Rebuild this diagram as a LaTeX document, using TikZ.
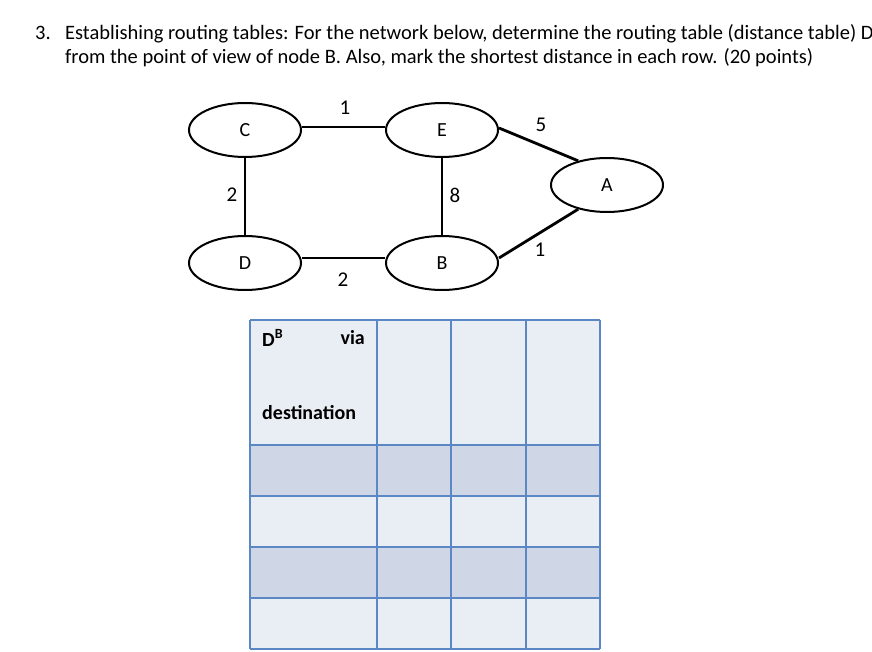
\documentclass[tikz,border=0pt]{standalone}
\usepackage{fontspec}
\setmainfont{Carlito}
\usetikzlibrary{shapes.geometric}
\begin{document}
\begin{tikzpicture}[x=1pt,y=-1pt,
  nd/.style={draw,line width=2pt,ellipse,minimum width=112pt,minimum height=54pt,font=\fontsize{20}{24}\selectfont},
  ed/.style={line width=2.8pt},
  wl/.style={font=\fontsize{21}{25}\selectfont},
  tb/.style={draw=tblue,line width=2pt},
  txt/.style={font=\fontsize{20.5}{25}\selectfont,anchor=west,inner sep=0pt}]
\definecolor{tblue}{HTML}{5B87C5}
\definecolor{lite}{HTML}{E9EDF4}
\definecolor{dark}{HTML}{CFD7E6}
\useasboundingbox (0,0) rectangle (872,652);
\node[txt] (t0) at (35,33) {3.};
\node[txt] (t1) at (65,33) {Establishing routing tables: For the network below, determine the routing table (distance table) D\textsuperscript{B}};
\node[txt] (t2) at (65,58) {from the point of view of node B. Also, mark the shortest distance in each row. (20 points)};
\node[nd] (C) at (245,130) {C};
\node[nd] (E) at (442,130) {E};
\node[nd] (A) at (607,185) {A};
\node[nd] (D) at (245,263) {D};
\node[nd] (B) at (442,263) {B};
\draw[ed] (C.east) ++(0,-3) coordinate (c1) -- (c1 -| E.west);
\draw[ed] (C) -- (D);
\draw[ed] (E) -- (B);
\draw[ed] (D.east) ++(0,-5) coordinate (d1) -- (d1 -| B.west);
\draw[ed] (E.east) ++(0,-2) coordinate (e1) -- (A.140);
\draw[ed] (B.east) ++(0,-5) coordinate (b1) -- (A.220);
\node[wl] (w1) at (345,108) {1};
\node[wl] (w2) at (232,195) {2};
\node[wl] (w3) at (455,195) {8};
\node[wl] (w4) at (343,280) {2};
\node[wl] (w5) at (541,125) {5};
\node[wl] (w6) at (540,250) {1};
% table
\fill[lite] (250,320) rectangle (600,445);
\fill[dark] (250,445) rectangle (600,496);
\fill[lite] (250,496) rectangle (600,547);
\fill[dark] (250,547) rectangle (600,598);
\fill[lite] (250,598) rectangle (600,649);
\foreach \x in {250,377,451,526,600} \draw[tb] (\x,320) -- (\x,649);
\foreach \y in {320,445,496,547,598,649} \draw[tb] (250,\y) -- (600,\y);
\node[txt,font=\fontsize{20}{24}\selectfont\bfseries] (h1) at (262,338) {D\textsuperscript{B}};
\node[txt,anchor=east,font=\fontsize{20}{24}\selectfont\bfseries] (h2) at (365,338) {via};
\node[txt,font=\fontsize{20}{24}\selectfont\bfseries] (h3) at (262,413) {destination};
\end{tikzpicture}
\end{document}
